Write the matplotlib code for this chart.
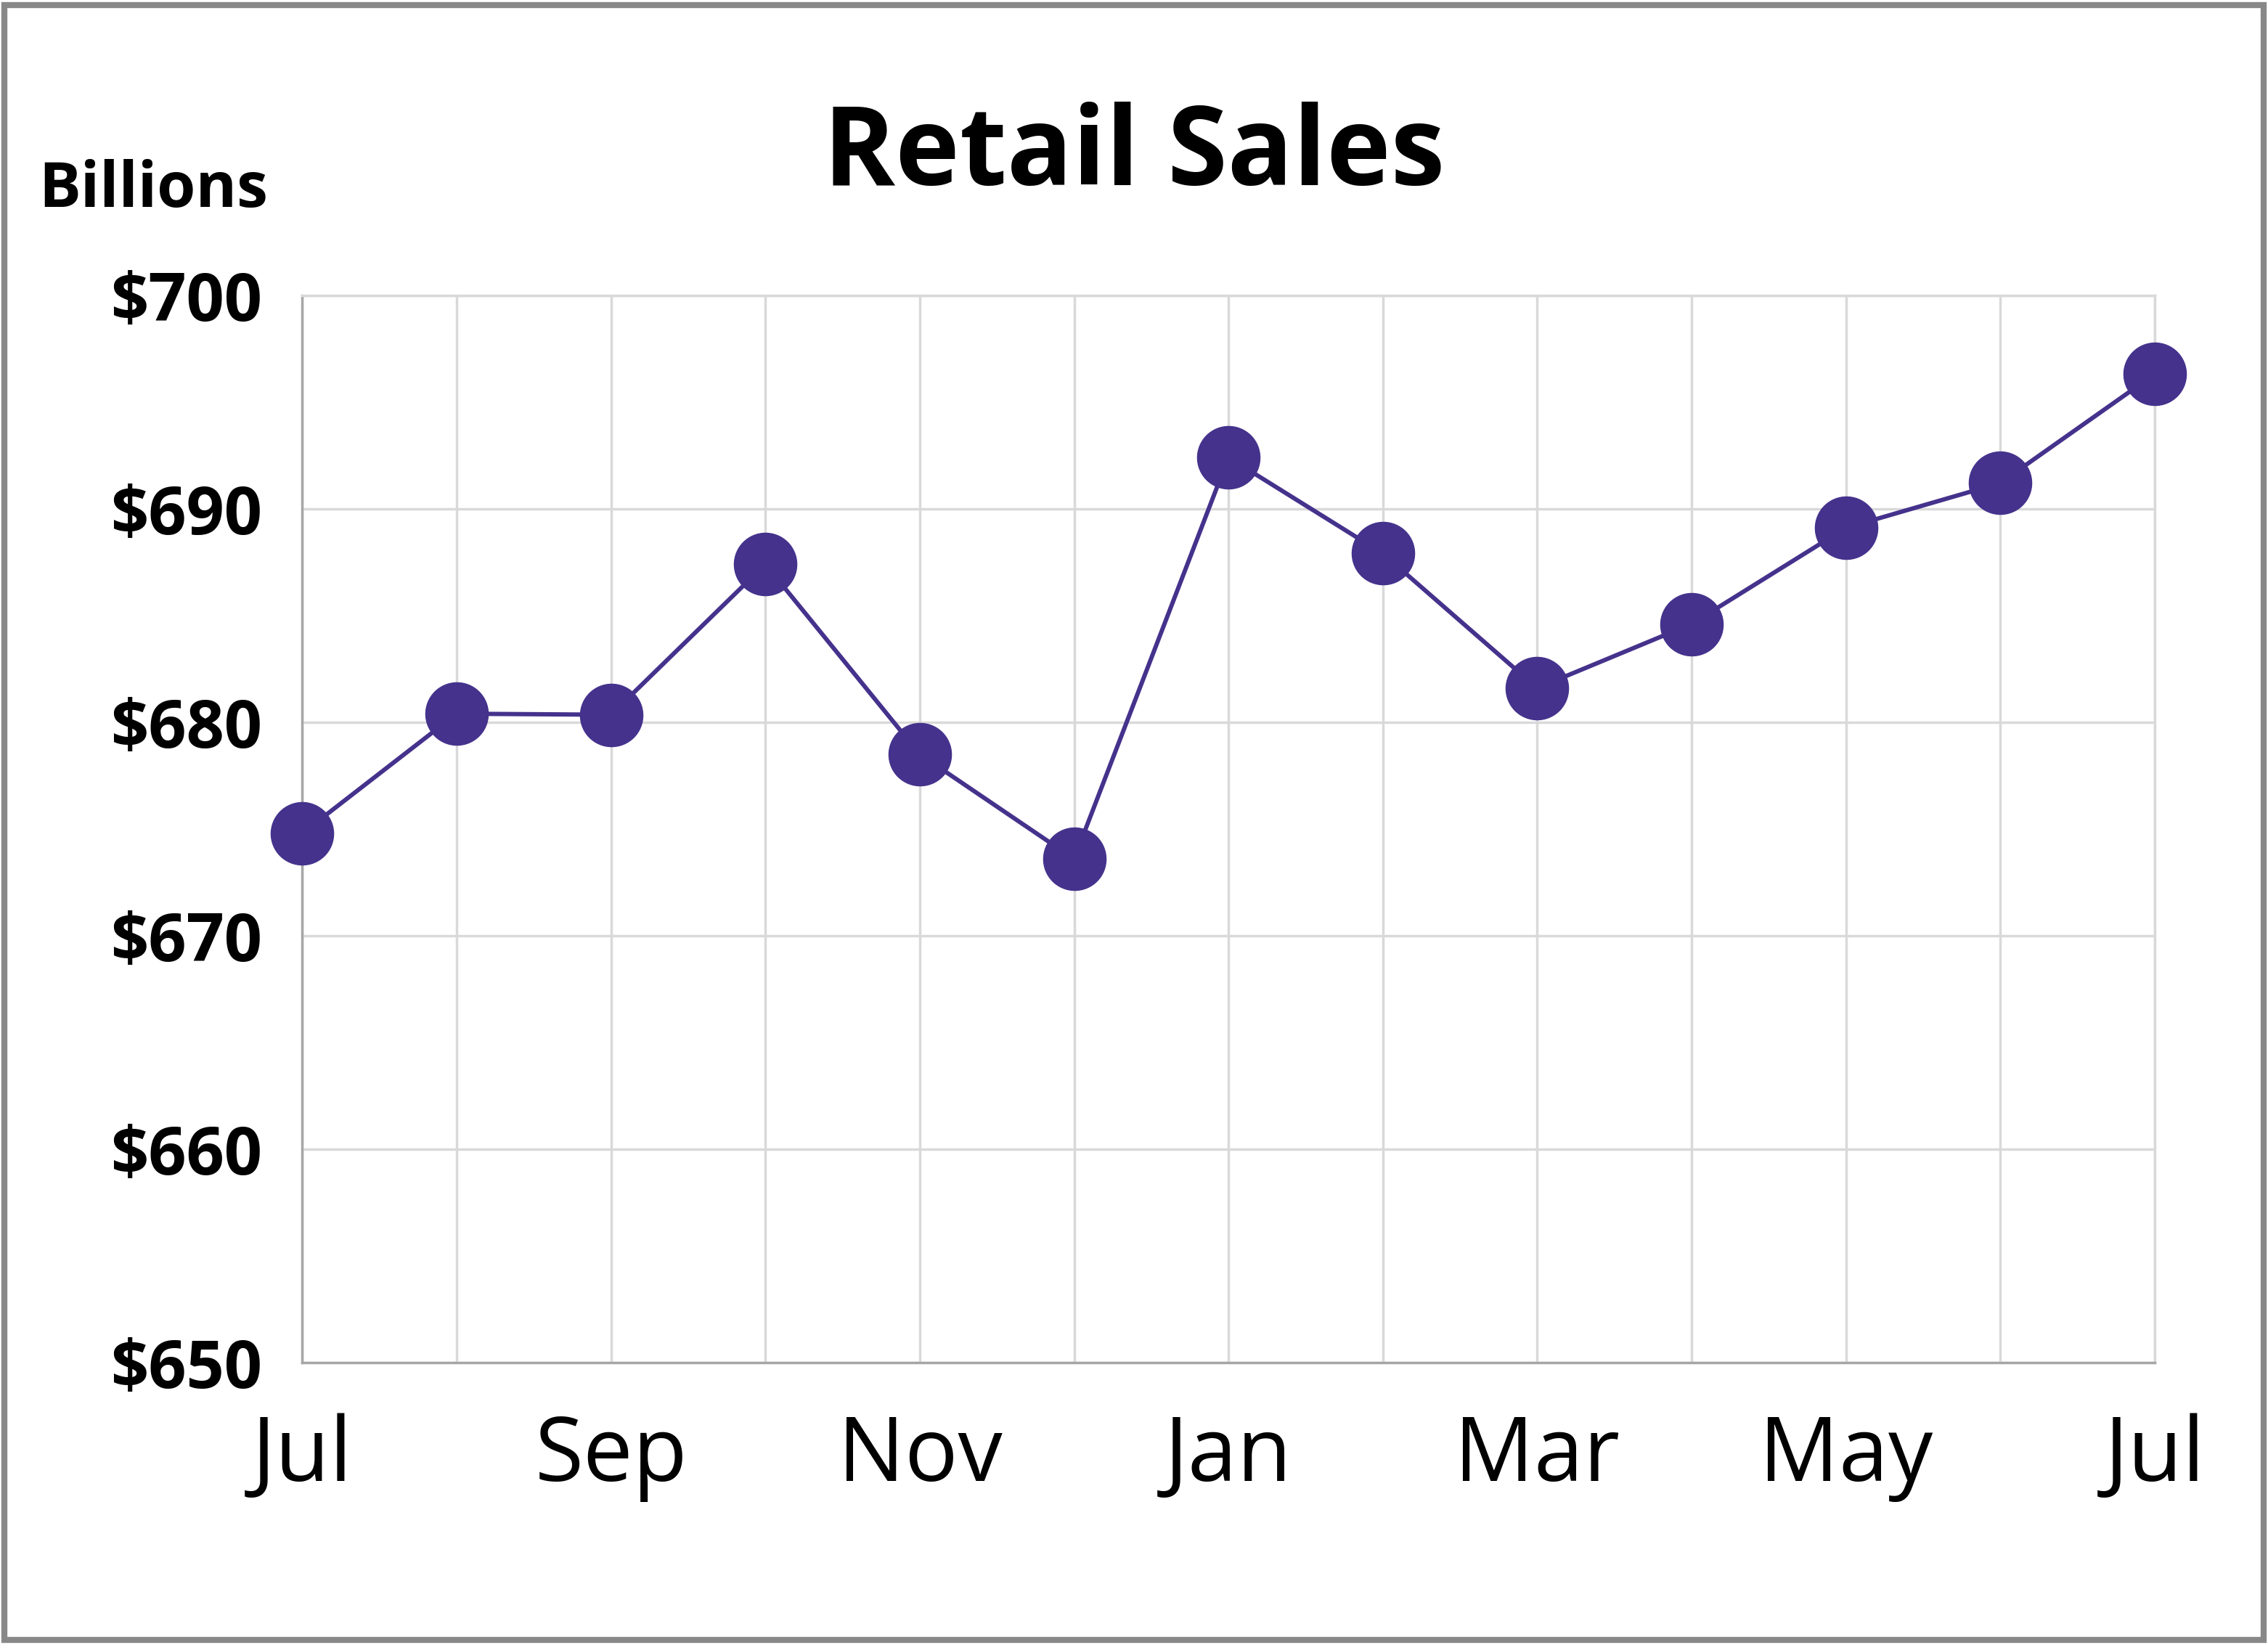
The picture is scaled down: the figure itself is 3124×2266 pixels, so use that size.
import matplotlib
matplotlib.use("Agg")
import matplotlib.pyplot as plt
from matplotlib.patches import Rectangle

months = ["Jul","Aug","Sep","Oct","Nov","Dec","Jan","Feb","Mar","Apr","May","Jun","Jul"]
sales = [674.8, 680.4, 680.35, 687.4, 678.5, 673.6, 692.4, 687.9, 681.6, 684.6, 689.1, 691.2, 696.3]
yticks = [650, 660, 670, 680, 690, 700]
ytick_labels = ["$650", "$660", "$670", "$680", "$690", "$700"]

plt.rcParams['font.family'] = ['Open Sans', 'DejaVu Sans']
fig = plt.figure(figsize=(31.24, 22.66), dpi=100)
ax = fig.add_axes([0.1333, 0.1715, 0.8167, 0.6491])
x = list(range(len(months)))
color = "#45328C"
ax.plot(x, sales, color=color, lw=4.3, marker="o", markersize=62, zorder=3, clip_on=False)
ax.set_xlim(0, 12)
ax.set_ylim(650, 700)
ax.set_xticks(x)
ax.set_xticklabels([m if i % 2 == 0 else "" for i, m in enumerate(months)], fontsize=88)
ax.set_yticks(yticks)
ax.set_yticklabels(ytick_labels, fontsize=66, fontweight="bold")
ax.tick_params(length=0, pad=40)
ax.tick_params(axis='x', pad=50)
ax.grid(True, color="#D9D9D9", lw=2.5)
for s in ["top", "right"]:
    ax.spines[s].set_color("#D9D9D9"); ax.spines[s].set_linewidth(2.5)
for s in ["left", "bottom"]:
    ax.spines[s].set_color("#A6A6A6"); ax.spines[s].set_linewidth(2.5)
fig.text(0.5, 0.905, "Retail Sales", ha="center", va="center", fontsize=108, fontweight="bold")
fig.text(0.017, 0.884, "Billions", ha="left", va="center", fontsize=62, fontweight="bold")
fig.patches.append(Rectangle((0.002, 0.003), 0.996, 0.994, transform=fig.transFigure,
                             fill=False, edgecolor="#888888", lw=6))
fig.savefig("out.png", dpi=100)
